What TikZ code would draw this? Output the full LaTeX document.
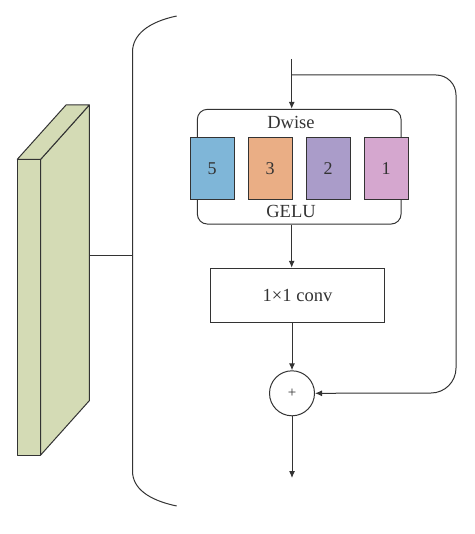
\documentclass[tikz,border=0pt]{standalone}
\usepackage{fontspec}
\setmainfont{Liberation Serif}
\usetikzlibrary{arrows.meta}
\definecolor{lin}{HTML}{333333}
\definecolor{slab}{HTML}{D4DBB5}
\definecolor{cblue}{HTML}{7FB6D8}
\definecolor{corange}{HTML}{EAAE85}
\definecolor{cpurple}{HTML}{AA9CC9}
\definecolor{cpink}{HTML}{D5A7CF}
\begin{document}
\begin{tikzpicture}[x=1pt,y=-1pt,
  line width=1pt,color=lin,
  arr/.style={-{Latex[length=7pt,width=6pt]}},
  kbox/.style={draw=lin,minimum width=44pt,minimum height=62pt,inner sep=0pt,font=\fontsize{18}{20}\selectfont},
  lbl/.style={inner sep=0pt,font=\fontsize{18.5}{20}\selectfont,text=lin}]
\path[use as bounding box] (0,0) rectangle (474,534);
% slab
\filldraw[fill=slab,line join=round] (17.3,159.3) -- (40.7,159.3) -- (40.7,455) -- (17.3,455) -- cycle;
\filldraw[fill=slab,line join=round] (40.7,159.3) -- (89.3,105) -- (89.3,400.7) -- (40.7,455) -- cycle;
\filldraw[fill=slab,line join=round] (17.3,159.3) -- (66,105) -- (89.3,105) -- (40.7,159.3) -- cycle;
\coordinate (slabR) at (89.3,255);
\coordinate (brk) at (132.5,255);
\draw (slabR) -- (brk);
% bracket
\draw (176.7,16) .. controls (148,22) and (132.5,35) .. (132.5,52) -- (132.5,471) .. controls (132.5,488) and (148,500) .. (176.7,506);
% dwise box
\node[draw=lin,rounded corners=10pt,minimum width=203.7pt,minimum height=114.7pt,inner sep=0pt] (dw) at (299.2,166.7) {};
\node[kbox,fill=cblue] (k5) at (212.2,168.2) {5};
\node[kbox,fill=corange] (k3) at (270,168.2) {3};
\node[kbox,fill=cpurple] (k2) at (328,168.2) {2};
\node[kbox,fill=cpink] (k1) at (386.2,168.2) {1};
\node[lbl] (dwl) at (291,122.5) {Dwise};
\node[lbl] (gelu) at (291,211.5) {GELU};
% conv
\node[draw=lin,minimum width=173.6pt,minimum height=54pt,inner sep=0pt,font=\fontsize{18.5}{20}\selectfont] (conv) at (297.5,295.3) {1×1 conv};
% plus
\node[draw=lin,circle,minimum size=45pt,inner sep=0pt,font=\fontsize{15}{16}\selectfont] (plus) at (292,393.3) {+};
\coordinate (in) at (291.7,59);
\coordinate (out) at (292,478);
\coordinate (br) at (291.7,75);
\draw[arr] (in) -- (in |- dw.north);
\draw[arr] (br) -- (436,75) arc[start angle=-90,end angle=0,radius=20] -- (456,368) arc[start angle=0,end angle=90,radius=25] -- (plus.east);
\draw[arr] (dw.south -| br) -- (conv.north -| br);
\draw[arr] (conv.south -| plus) -- (plus.north);
\draw[arr] (plus.south) -- (out);
\end{tikzpicture}
\end{document}
